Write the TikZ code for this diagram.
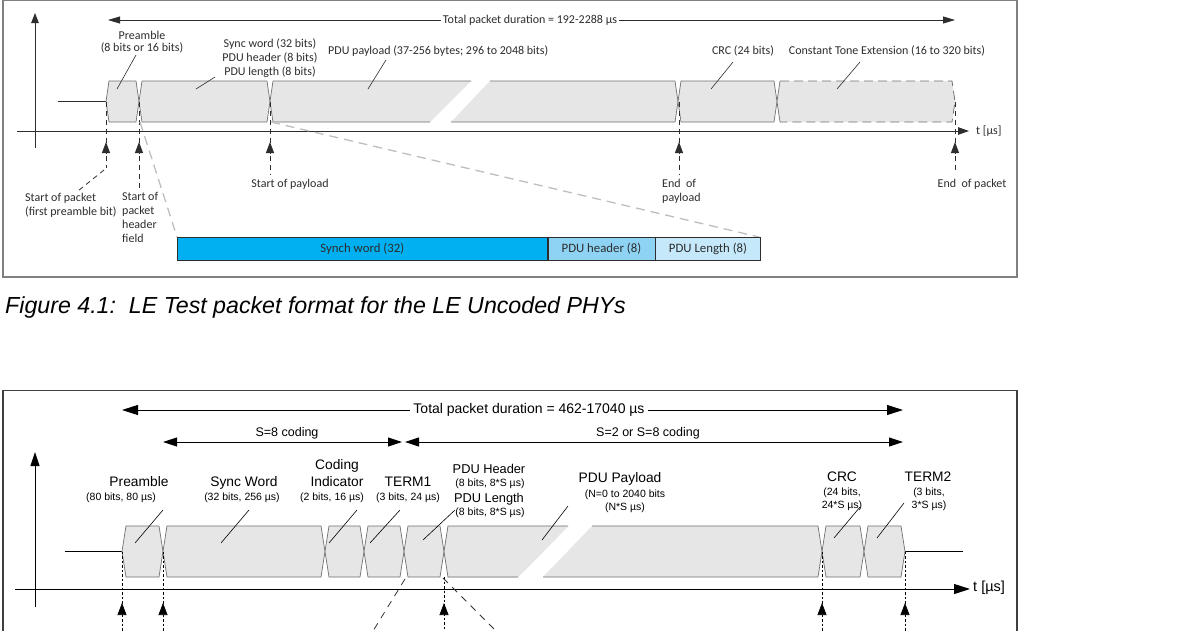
\documentclass[tikz,border=0pt]{standalone}
\usepackage{fontspec}
\setmainfont{Carlito}
\newfontfamily\arialfont{Liberation Sans}
\usetikzlibrary{arrows.meta, positioning, calc}

\definecolor{pktgray}{RGB}{230, 230, 230}
\definecolor{edgegray}{RGB}{112, 112, 112}
\definecolor{framegray}{RGB}{128, 128, 128}
\definecolor{inkgray}{RGB}{45, 45, 45}
\definecolor{zoomgray}{RGB}{190, 190, 190}
\definecolor{synchblue}{RGB}{0, 176, 240}
\definecolor{hdrblue}{RGB}{142, 211, 244}
\definecolor{lenblue}{RGB}{197, 233, 250}

% hexagonal field: x left, x right, y top, y bottom, slant
\newcommand{\hexblk}[5]{%
  \filldraw[blk] (#1,{(#3+#4)/2}) -- (#1+#5,#3) -- (#2-#5,#3) -- (#2,{(#3+#4)/2})
    -- (#2-#5,#4) -- (#1+#5,#4) -- cycle;}

\begin{document}
\begin{tikzpicture}[x=1pt, y=-1pt,
    blk/.style={fill=pktgray, draw=edgegray, line width=0.7pt},
    leader/.style={draw=inkgray, line width=0.6pt},
    mkline/.style={draw=inkgray, line width=0.8pt, dash pattern=on 5pt off 4pt},
    uptip/.style={-{Triangle[length=11pt, width=8pt]}, inkgray, line width=0.8pt},
    lblA/.style={inner sep=0pt, text=inkgray, font=\fontsize{12}{14}\selectfont},
    lblB/.style={inner sep=0pt, font=\arialfont\fontsize{13.8}{16}\selectfont},
    lblC/.style={inner sep=0pt, font=\arialfont\fontsize{10.5}{13}\selectfont},
    barbox/.style={draw=inkgray, line width=0.6pt, minimum height=23pt, inner sep=0pt,
      anchor=north west, font=\fontsize{12.8}{14}\selectfont, text=inkgray}]

\useasboundingbox (0,0) rectangle (1200,630);
\fill[white] (0,0) rectangle (1200,630);

%% ---------------- Figure 4.1 ----------------
\draw[framegray, line width=1.3pt] (3,0.7) rectangle (1017,277);

% axes
\draw[inkgray, line width=1pt, -{Triangle[length=10pt, width=7.5pt]}] (35,148) -- (35,13);
\draw[inkgray, line width=1pt, -{Triangle[length=11pt, width=7.5pt]}] (17,131) -- (969,131);
\node[lblA, anchor=west] (t1) at (976,131) {t [µs]};

% total duration
\draw[inkgray, line width=0.8pt, {Triangle[length=12pt, width=7pt]}-{Triangle[length=12pt, width=7pt]}]
  (108,20) -- (955,20);
\node[lblA, fill=white, inner xsep=2pt, inner ysep=1pt] (tot1) at (530,20.5) {Total packet duration = 192-2288 µs};

% fields
\draw[inkgray, line width=0.8pt] (58,101.5) -- (106,101.5);
\hexblk{106}{139}{81}{122}{3}
\hexblk{139}{270}{81}{122}{3}
\fill[pktgray] (270,101.5) -- (273,81) -- (471,81) -- (430,122) -- (273,122) -- cycle;
\fill[pktgray] (490,81) -- (675,81) -- (678,101.5) -- (675,122) -- (451,122) -- cycle;
\draw[edgegray, line width=0.7pt] (430,122) -- (273,122) -- (270,101.5) -- (273,81) -- (471,81);
\draw[edgegray, line width=0.7pt] (490,81) -- (675,81) -- (678,101.5) -- (675,122) -- (451,122);
\hexblk{678}{777}{81}{122}{3}
\fill[pktgray] (777,101.5) -- (780,81) -- (952,81) -- (955,101.5) -- (952,122) -- (780,122) -- cycle;
\draw[edgegray, line width=0.7pt] (780,81) -- (777,101.5) -- (780,122);
\draw[edgegray, line width=0.8pt, dash pattern=on 9pt off 5pt]
  (780,81) -- (952,81) -- (955,101.5) -- (952,122) -- (780,122);

% field labels (base = last line)
\node[lblA, anchor=base, align=center, font=\fontsize{12}{12}\selectfont] (pre1) at (142,51) {Preamble\\(8 bits or 16 bits)};
\node[lblA, anchor=base, align=center] (sync1) at (270,75) {Sync word (32 bits)\\PDU header (8 bits)\\PDU length (8 bits)};
\node[lblA, anchor=base west] (pay1) at (328,54) {PDU payload (37-256 bytes; 296 to 2048 bits)};
\node[lblA, anchor=base] (crc1) at (743,54) {CRC (24 bits)};
\node[lblA, anchor=base] (cte1) at (887,54) {Constant Tone Extension (16 to 320 bits)};
\draw[leader] (136,55) -- (117,89);
\draw[leader] (215,77) -- (196,89);
\draw[leader] (386,60) -- (368,89);
\draw[leader] (733,62) -- (711,89);
\draw[leader] (860,62) -- (837,89);

% time markers
\foreach \x/\yend in {106/168, 139/188, 270/175, 679/175, 955/170} {
  \draw[mkline] (\x,101.5) -- (\x,\yend);
  \draw[uptip] (\x,153) -- (\x,142);
}
\draw[mkline] (104,170) -- (78,191);
\node[lblA, anchor=base west, align=left] (sop) at (25,215) {Start of packet\\(first preamble bit)};
\node[lblA, anchor=base west, align=left, font=\fontsize{12}{13.7}\selectfont] (soh) at (122,242) {Start of\\packet\\header\\field};
\node[lblA, anchor=base] (spl) at (290,187) {Start of payload};
\node[lblA, anchor=base west, align=left] (epl) at (662,201) {End\ \ of\\payload};
\node[lblA, anchor=base] (epk) at (972,187) {End\ \ of packet};

% zoom of the header fields
\draw[zoomgray, line width=1.3pt, dash pattern=on 9pt off 6pt] (140,122) -- (177,237);
\draw[zoomgray, line width=1.3pt, dash pattern=on 9pt off 6pt] (271,122) -- (759,237);
\node[barbox, fill=synchblue, minimum width=370pt] (synch) at (177,237) {Synch word (32)};
\node[barbox, fill=hdrblue, minimum width=107pt, right=0pt of synch] (hdr) {PDU header (8)};
\node[barbox, fill=lenblue, minimum width=105pt, right=0pt of hdr] (len) {PDU Length (8)};

% caption
\node[inner sep=0pt, anchor=base west, font=\arialfont\itshape\fontsize{23.2}{26}\selectfont] (cap1)
  at (5,313) {Figure 4.1:\ \ LE Test packet format for the LE Uncoded PHYs};

%% ---------------- coded PHY figure ----------------
\draw[black!75, line width=1.2pt] (3,631) |- (1017,390.5) -- (1017,631);

% axes
\draw[black, line width=1pt, -{Triangle[length=14pt, width=9pt]}] (35,607) -- (35,452);
\draw[black, line width=1pt, -{Triangle[length=16pt, width=10pt]}] (15,589) -- (970,589);
\node[lblB, anchor=west, font=\arialfont\fontsize{14.5}{16}\selectfont] (t2) at (973,588) {t [µs]};

% durations
\draw[black, line width=0.9pt, {Triangle[length=16pt, width=10pt]}-{Triangle[length=16pt, width=10pt]}]
  (122,410) -- (903,410);
\node[lblB, fill=white, inner xsep=3pt, font=\arialfont\fontsize{14}{16}\selectfont] (tot2) at (529,410) {Total packet duration = 462-17040 µs};
\draw[black, line width=0.9pt, {Triangle[length=14pt, width=9pt]}-{Triangle[length=14pt, width=9pt]}]
  (163,442) -- (402,442);
\draw[black, line width=0.9pt, {Triangle[length=14pt, width=9pt]}-{Triangle[length=14pt, width=9pt]}]
  (405,442) -- (903,442);
\node[lblB, anchor=base, font=\arialfont\fontsize{12.5}{14}\selectfont] (s8) at (287,436.5) {S=8 coding};
\node[lblB, anchor=base, font=\arialfont\fontsize{12.5}{14}\selectfont] (s28) at (648,436.5) {S=2 or S=8 coding};

% fields
\draw[black, line width=0.9pt] (65,551.5) -- (122,551.5);
\draw[black, line width=0.9pt] (905,551.5) -- (963,551.5);
\foreach \xa/\xb in {122/163, 163/325, 325/364, 364/404, 404/444, 822/864, 864/905}
  \hexblk{\xa}{\xb}{526}{577}{4}
\fill[pktgray] (444,551.5) -- (448,526) -- (568,526) -- (518,577) -- (448,577) -- cycle;
\fill[pktgray] (592,526) -- (818,526) -- (822,551.5) -- (818,577) -- (543,577) -- cycle;
\draw[edgegray, line width=0.7pt] (518,577) -- (448,577) -- (444,551.5) -- (448,526) -- (568,526);
\draw[edgegray, line width=0.7pt] (592,526) -- (818,526) -- (822,551.5) -- (818,577) -- (543,577);

% field labels (base = last line)
\node[lblB, anchor=base] (pre2) at (139,486.7) {Preamble};
\node[lblC, anchor=base] (pre2d) at (121,500.7) {(80 bits, 80 µs)};
\node[lblB, anchor=base] (sync2) at (244,486.7) {Sync Word};
\node[lblC, anchor=base] (sync2d) at (242,500.7) {(32 bits, 256 µs)};
\node[lblB, anchor=base, align=center, font=\arialfont\fontsize{13.8}{17}\selectfont] (ci) at (337,486.7) {Coding\\Indicator};
\node[lblC, anchor=base] (cid) at (332,500.7) {(2 bits, 16 µs)};
\node[lblB, anchor=base] (tm1) at (408,486.7) {TERM1};
\node[lblC, anchor=base] (tm1d) at (408,500.7) {(3 bits, 24 µs)};
\node[lblB, anchor=base, font=\arialfont\fontsize{12.8}{15}\selectfont] (phd) at (489,473.7) {PDU Header};
\node[lblC, anchor=base] (phdd) at (490,486.7) {(8 bits, 8*S µs)};
\node[lblB, anchor=base, font=\arialfont\fontsize{12.8}{15}\selectfont] (pln) at (489,502.7) {PDU Length};
\node[lblC, anchor=base] (plnd) at (490,515.7) {(8 bits, 8*S µs)};
\node[lblB, anchor=base] (pay2) at (620,482.7) {PDU Payload};
\node[lblC, anchor=base, align=center] (pay2d) at (625,510.7) {(N=0 to 2040 bits\\(N*S µs)};
\node[lblB, anchor=base] (crc2) at (842,481.7) {CRC};
\node[lblC, anchor=base, align=center] (crc2d) at (842,508.7) {(24 bits,\\24*S µs)};
\node[lblB, anchor=base] (tm2) at (928,481.7) {TERM2};
\node[lblC, anchor=base, align=center] (tm2d) at (929,508.7) {(3 bits,\\3*S µs)};
\draw[leader, black] (163,510) -- (135,543);
\draw[leader, black] (249,510) -- (221,543);
\draw[leader, black] (357,510) -- (329,543);
\draw[leader, black] (400,510) -- (370,543);
\draw[leader, black] (455,510) -- (423,540);
\draw[leader, black] (568,506) -- (542,540);
\draw[leader, black] (860,507) -- (834,538);
\draw[leader, black] (904,503) -- (877,538);

% time markers
\foreach \x/\ystart in {122/551.5, 163/551.5, 444/577, 822/551.5, 905/551.5} {
  \draw[black, line width=0.6pt, dash pattern=on 2.5pt off 2pt] (\x,\ystart) -- (\x,631);
  \draw[-{Triangle[length=12pt, width=9pt]}, black, line width=0.6pt] (\x,615) -- (\x,603);
}
\draw[black!80, line width=0.8pt, dash pattern=on 7pt off 6pt] (405,579) -- (373,631);
\draw[black!80, line width=0.8pt, dash pattern=on 7pt off 6pt] (443,578) -- (496,631);

\end{tikzpicture}
\end{document}
